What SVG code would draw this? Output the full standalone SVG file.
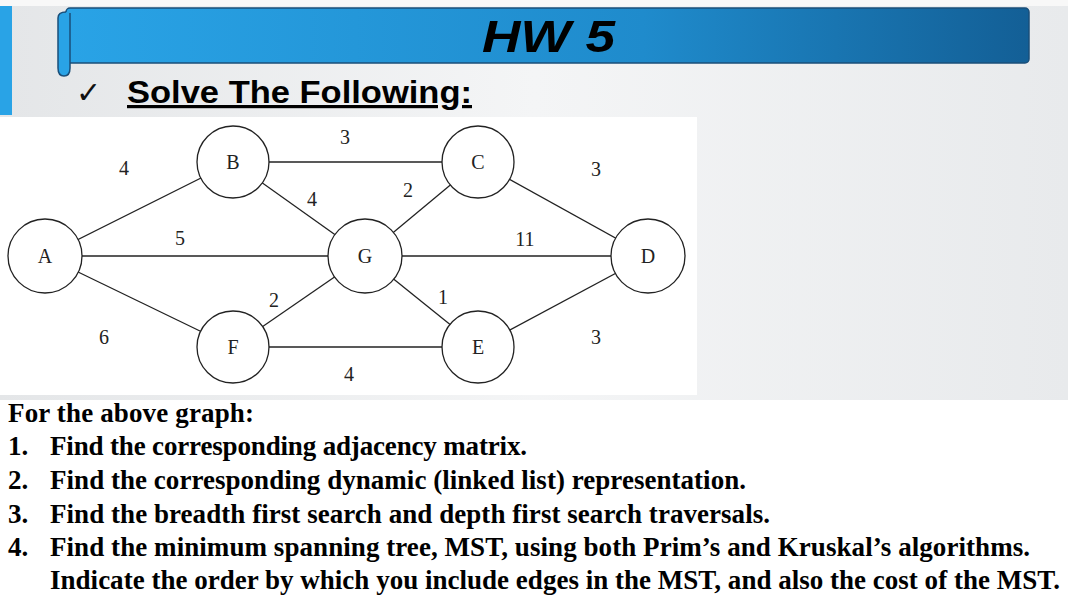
<svg xmlns="http://www.w3.org/2000/svg" width="1068" height="600" viewBox="0 0 1068 600">
<defs>
<linearGradient id="bn" x1="0" x2="1" y1="0" y2="0"><stop offset="0" stop-color="#29a3e6"/><stop offset="0.6" stop-color="#1f8bcc"/><stop offset="1" stop-color="#135f96"/></linearGradient>
<linearGradient id="bg" x1="0" x2="1"><stop offset="0" stop-color="#e4e6e8"/><stop offset="0.5" stop-color="#f4f5f6"/><stop offset="1" stop-color="#e8eaec"/></linearGradient>
<style>
.n circle{fill:#fff;stroke:#222;stroke-width:1.3}
.n text,.w{font-family:"Liberation Serif",serif;font-size:20px;fill:#222;text-anchor:middle}
#edges line{stroke:#222;stroke-width:1.3}
.q{font-family:"Liberation Serif",serif;font-weight:bold;font-size:27px;fill:#000}
</style>
</defs>
<rect width="1068" height="600" fill="url(#bg)"/>
<rect x="0" y="0" width="12" height="115" fill="#29a3e6"/>
<rect x="0" y="0" width="1068" height="6" fill="#f8f8f8"/>
<g id="banner">
<rect x="66" y="8" width="963" height="55" rx="4" fill="url(#bn)" stroke="#1a4f7a" stroke-width="1.5"/>
<path d="M66,12 q-8,0 -8,6 v50 q0,8 6,8 q6,0 6,-8 v-55" fill="#29a3e6" stroke="#1a4f7a" stroke-width="1.5"/>
<text x="482" y="52" font-family="Liberation Sans,sans-serif" font-style="italic" font-weight="bold" font-size="44" fill="#000" textLength="133" lengthAdjust="spacingAndGlyphs">HW 5</text>
</g>
<text x="76" y="103" font-family="DejaVu Sans,sans-serif" font-size="30" fill="#111">✓</text>
<text x="127" y="103" font-family="Liberation Sans,sans-serif" font-weight="bold" font-size="32" fill="#000" text-decoration="underline" textLength="345" lengthAdjust="spacingAndGlyphs">Solve The Following:</text>
<rect x="0" y="117" width="697" height="278" fill="#fff"/>
<g id="edges">
<line x1="45" y1="256" x2="233" y2="162"/><line x1="45" y1="256" x2="365" y2="256"/><line x1="45" y1="256" x2="233" y2="347"/>
<line x1="233" y1="162" x2="478" y2="162"/><line x1="233" y1="162" x2="365" y2="256"/>
<line x1="478" y1="162" x2="365" y2="256"/><line x1="478" y1="162" x2="648" y2="256"/>
<line x1="365" y1="256" x2="648" y2="256"/><line x1="365" y1="256" x2="233" y2="347"/><line x1="365" y1="256" x2="478" y2="347"/>
<line x1="233" y1="347" x2="478" y2="347"/><line x1="478" y1="347" x2="648" y2="256"/>
</g>
<g id="labels">
<text class="w" x="124" y="175">4</text><text class="w" x="345" y="144">3</text><text class="w" x="596" y="176">3</text>
<text class="w" x="312" y="206">4</text><text class="w" x="408" y="197">2</text>
<text class="w" x="180" y="245">5</text><text class="w" x="525" y="246">11</text>
<text class="w" x="274" y="307">2</text><text class="w" x="443" y="304">1</text>
<text class="w" x="104" y="344">6</text><text class="w" x="596" y="344">3</text><text class="w" x="349" y="381">4</text>
</g>
<g id="A" class="n"><circle cx="45" cy="256" r="37"/><text x="45" y="263">A</text></g>
<g id="B" class="n"><circle cx="233" cy="162" r="36"/><text x="233" y="169">B</text></g>
<g id="C" class="n"><circle cx="478" cy="162" r="36"/><text x="478" y="169">C</text></g>
<g id="G" class="n"><circle cx="365" cy="256" r="37"/><text x="365" y="263">G</text></g>
<g id="D" class="n"><circle cx="648" cy="256" r="37"/><text x="648" y="263">D</text></g>
<g id="F" class="n"><circle cx="233" cy="347" r="36"/><text x="233" y="354">F</text></g>
<g id="E" class="n"><circle cx="478" cy="347" r="36"/><text x="478" y="354">E</text></g>
<rect x="0" y="400" width="1068" height="200" fill="#fff"/>
<g id="text">
<text class="q" x="8" y="422" textLength="246">For the above graph:</text>
<text class="q" x="8" y="455">1.</text><text class="q" x="50" y="455" textLength="477">Find the corresponding adjacency matrix.</text>
<text class="q" x="8" y="489">2.</text><text class="q" x="50" y="489" textLength="696">Find the corresponding dynamic (linked list) representation.</text>
<text class="q" x="8" y="523">3.</text><text class="q" x="50" y="523" textLength="720">Find the breadth first search and depth first search traversals.</text>
<text class="q" x="8" y="556">4.</text><text class="q" x="50" y="556" textLength="980">Find the minimum spanning tree, MST, using both Prim’s and Kruskal’s algorithms.</text>
<text class="q" x="50" y="589" textLength="1010">Indicate the order by which you include edges in the MST, and also the cost of the MST.</text>
</g>
</svg>
